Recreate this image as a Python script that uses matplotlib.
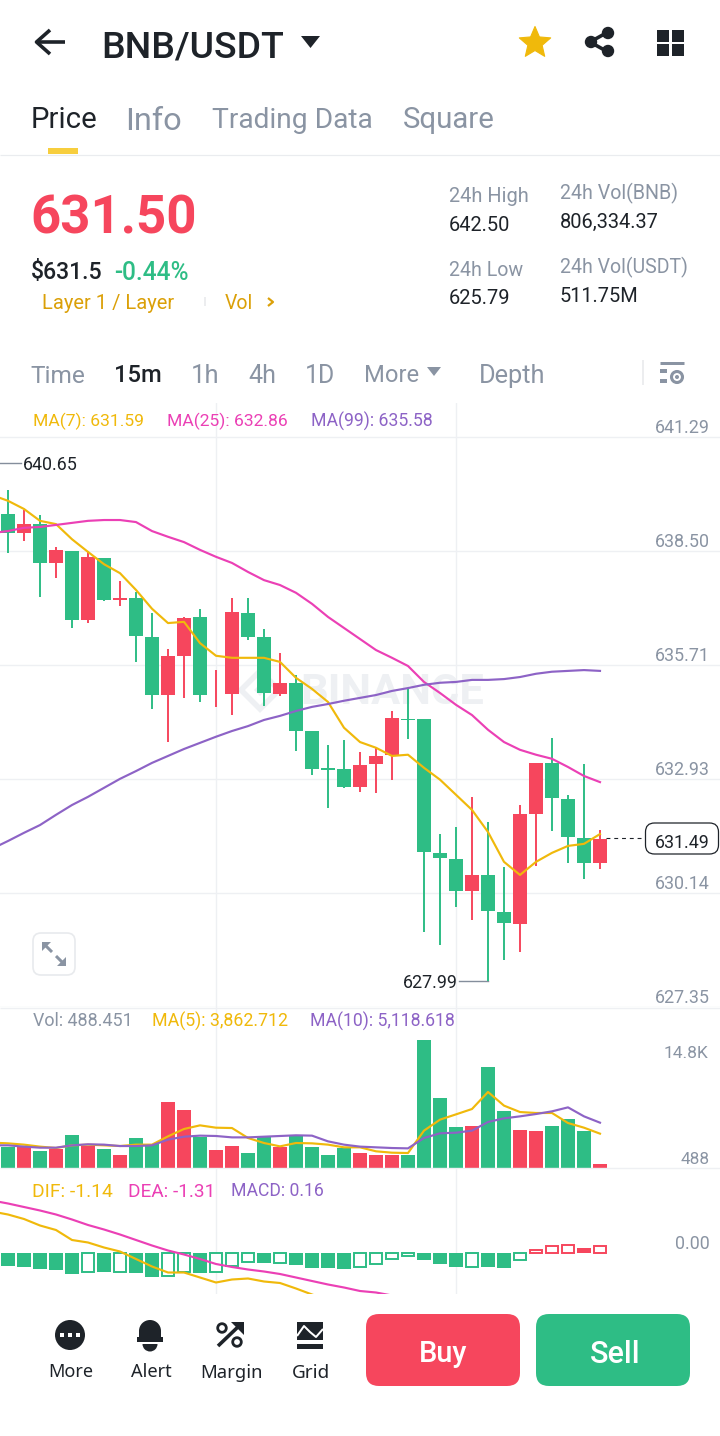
import numpy as np
import matplotlib
matplotlib.use("Agg")
import matplotlib.pyplot as plt
from matplotlib.font_manager import FontProperties
from matplotlib.textpath import TextPath
from matplotlib.patches import Circle, Rectangle, FancyBboxPatch, Polygon, Wedge, Ellipse

# ---------- data ----------
opens = [639.41,638.94,639.16,638.21,638.50,636.82,638.33,637.30,637.35,636.40,634.98,635.94,636.89,635.03,635.01,
         636.99,636.40,635.01,635.28,634.10,633.20,633.17,632.73,633.30,633.52,634.39,634.39,631.12,630.97,630.19,
         630.58,629.67,629.38,632.07,633.32,632.44,631.49,630.88]
closes = [638.94,639.16,638.21,638.53,636.82,638.36,637.30,637.35,636.42,634.98,635.94,636.87,634.98,635.03,637.01,
          636.40,635.03,635.28,634.10,633.17,633.15,632.73,633.27,633.49,634.42,634.37,631.14,631.00,630.19,630.58,
          629.70,629.41,632.07,633.32,632.47,631.51,630.88,631.46]
highs = [639.99,639.51,639.38,638.60,638.50,638.50,638.33,637.77,637.50,636.99,636.11,636.89,637.09,635.59,637.35,
         637.35,636.60,636.01,635.47,634.10,633.76,633.88,633.59,633.69,634.59,635.13,634.39,631.58,631.76,632.49,
         631.88,630.78,632.29,633.32,633.93,632.54,633.30,631.68]
lows = [638.45,638.75,637.38,637.84,636.62,636.74,637.28,637.16,635.79,634.64,633.83,634.91,634.81,634.69,634.49,
        636.33,634.71,634.96,633.61,633.03,632.22,632.71,632.61,632.59,632.91,633.91,629.19,628.87,629.80,629.48,
        627.99,628.50,628.70,630.80,631.66,630.88,630.48,630.73]
ma7 = [639.87,639.73,639.53,639.24,639.16,638.79,638.48,638.18,637.96,637.55,637.09,636.74,636.77,636.25,635.94,
       635.89,635.89,635.89,635.79,635.40,635.13,634.81,634.18,633.83,633.69,633.49,633.52,633.20,632.91,632.54,
       632.17,631.63,630.90,630.58,630.90,631.12,631.29,631.34,631.58]
ma25 = [638.94,638.99,639.07,639.09,639.14,639.19,639.24,639.26,639.26,639.21,638.99,638.85,638.72,638.53,638.36,
        638.21,637.99,637.79,637.67,637.48,637.21,636.89,636.62,636.35,636.08,635.89,635.69,635.30,635.03,634.74,
        634.49,634.13,633.83,633.64,633.52,633.42,633.22,633.00,632.85]
ma99 = [631.22,631.41,631.61,631.80,632.05,632.29,632.49,632.71,632.93,633.12,633.32,633.49,633.66,633.81,633.96,
        634.10,634.22,634.37,634.47,634.59,634.69,634.76,634.84,634.91,634.98,635.08,635.15,635.23,635.28,635.30,
        635.35,635.35,635.37,635.42,635.50,635.55,635.57,635.59,635.57]
volume = [2390,2430,1965,2230,3850,2510,2200,1540,3470,2770,7590,6700,3550,2050,2540,1730,3550,2390,3850,2390,1540,
          2310,1730,1540,1470,1540,14800,8060,4700,4820,11680,6550,4390,4310,4820,5630,4240,488]
vol_ma5 = [2930,2850,2700,2470,2310,2620,2700,2620,2540,2700,2700,3660,4510,4930,4660,4620,3470,2890,2500,2890,2850,
           2700,2390,2390,1930,1770,1730,4320,5590,6200,6820,8790,7210,6470,6360,6360,5200,4660,3970]
vol_ma10 = [2620,2620,2470,2350,2350,2620,2740,2700,2540,2540,2620,3280,3620,3740,3700,3540,3540,3620,3700,3780,3740,
            3080,2700,2470,2390,2310,2270,3470,4010,4080,4320,5320,5740,5970,6240,6550,7010,5970,5240]
macd = [-0.25,-0.27,-0.32,-0.33,-0.41,-0.37,-0.38,-0.375,-0.40,-0.48,-0.46,-0.38,-0.39,-0.385,-0.25,-0.18,-0.20,-0.19,
        -0.23,-0.29,-0.30,-0.31,-0.28,-0.21,-0.11,-0.05,-0.14,-0.21,-0.275,-0.27,-0.285,-0.29,-0.14,0.07,0.15,0.16,0.11,0.15]
dif = [0.83,0.77,0.68,0.55,0.46,0.26,0.21,0.11,0.03,-0.12,-0.27,-0.39,-0.39,-0.49,-0.59,-0.53,-0.51,-0.57,-0.60,-0.71,-0.83,-0.94]
dea = [1.05,0.99,0.92,0.85,0.77,0.67,0.56,0.47,0.37,0.26,0.15,0.05,-0.03,-0.12,-0.22,-0.28,-0.33,-0.37,-0.42,-0.49,-0.56,
       -0.63,-0.69,-0.76,-0.79,-0.85]
price_ticks = [641.29,638.50,635.71,632.93,630.14,627.35]

RED, GREEN = "#F6465D", "#2EBD85"
YEL, PINK, PUR = "#F0B90B", "#EB40B5", "#8D63C6"
DARK, GRAY, GRID = "#1E2329", "#8A94A3", "#EEF0F3"
W, H = 720, 1436
FONT = "Roboto"
PLEX = "Noto Sans"

fig = plt.figure(figsize=(W/100, H/100), dpi=100, facecolor="white")
bg = fig.add_axes([0, 0, 1, 1], zorder=0)
bg.set_xlim(0, W); bg.set_ylim(H, 0); bg.axis("off")
ov = fig.add_axes([0, 0, 1, 1], zorder=3)
ov.set_xlim(0, W); ov.set_ylim(H, 0); ov.axis("off")

def T(s, x0, x1, yc, color=DARK, weight="normal", family=FONT, z=5, on=None):
    fp = FontProperties(family=family, weight=weight)
    ext = TextPath((0, 0), s, size=100, prop=fp).get_extents()
    px = 100*(x1-x0)/ext.width*0.985
    (on or ov).text(x0+1.2-ext.x0*px/100, yc+0.355*px, s, color=color, fontproperties=fp, fontsize=px*0.72,
                    ha="left", va="baseline", zorder=z)

def L(xs, ys, color=DARK, lw=2.0, z=4, **k):
    ov.plot(xs, ys, color=color, lw=lw*0.72, zorder=z, solid_capstyle=k.pop("cap", "butt"), **k)

def P(p):
    ov.add_patch(p)

# ---------- header ----------
L([36, 65], [42, 42], lw=3.6)
L([50, 36.5, 50], [30, 42, 54], lw=3.6)
T("BNB/USDT", 103, 285, 44, weight="medium")
P(Polygon([[301,36],[320,36],[310.5,48]], fc=DARK, lw=0))
ang = np.deg2rad(np.arange(0, 360, 36) - 90)
rad = np.where(np.arange(10) % 2 == 0, 16.5, 7.5)
P(Polygon(np.c_[535+rad*np.cos(ang), 43+rad*np.sin(ang)], fc=YEL, ec=YEL, lw=0.8, joinstyle="round"))
L([608, 590, 608], [32, 42, 52], lw=3.6)
for c in [(608,33),(591,42),(608,51)]:
    P(Circle(c, 6.2, fc=DARK, lw=0))
for x in (656.5, 671.5):
    for y in (29.5, 43.5):
        P(Rectangle((x, y), 12, 12, fc=DARK, lw=0))
T("Price", 32, 96, 118)
T("Info", 127, 180, 118, GRAY)
T("Trading Data", 211, 372, 118, GRAY)
T("Square", 403, 494, 118, GRAY)
P(Rectangle((48, 148), 30, 6, fc="#F7CE3E", lw=0))
L([0, 720], [154.5, 154.5], color="#EAECEF", lw=1.2)

T("631.50", 32, 196, 215, RED, weight="bold")
T("$631.5", 31, 102, 271, DARK, weight="medium")
T("-0.44%", 114, 188, 271, GREEN, weight="medium")
T("Layer 1 / Layer", 42, 174, 302, "#DBA008")
L([204.5, 204.5], [297, 306], color="#E6E8EA", lw=1.5)
T("Vol", 224, 251, 302, "#DBA008")
L([268, 273, 268], [298, 302, 306], color="#DBA008", lw=2.2)
T("24h High", 449, 528, 195, GRAY)
T("642.50", 449, 509, 224)
T("24h Vol(BNB)", 560, 678, 192, GRAY)
T("806,334.37", 560, 659, 221)
T("24h Low", 449, 523, 269, GRAY)
T("625.79", 449, 509, 297)
T("24h Vol(USDT)", 560, 688, 266, GRAY)
T("511.75M", 560, 637, 295)

T("Time", 30, 84, 374, GRAY)
T("15m", 115, 160, 374, DARK, weight="medium")
T("1h", 192, 217, 374, GRAY)
T("4h", 248, 274, 374, GRAY)
T("1D", 306, 333, 374, GRAY)
T("More", 365, 418, 374, GRAY)
P(Polygon([[427,367],[441,367],[434,376]], fc=GRAY, lw=0))
T("Depth", 480, 544, 374, GRAY)
L([642.5, 642.5], [360, 385], color="#E6E8EA", lw=1.5)
L([660, 684], [363, 363], color=GRAY, lw=3)
for y in (371, 381):
    P(Rectangle((660, y-2), 7, 4, fc=GRAY, lw=0))
P(Circle((677, 377), 5.5, fc="white", ec=GRAY, lw=2.2))
P(Circle((677, 377), 2, fc=GRAY, lw=0))

# ---------- watermark ----------
WM = "#EEF0F3"
bg.add_patch(Polygon([[260,671],[279,690],[260,709],[241,690]], fc="none", ec=WM, lw=4))
bg.add_patch(Polygon([[260,684],[266,690],[260,696],[254,690]], fc=WM, lw=0))
T("BINANCE", 302, 485, 689, WM, weight="bold", on=bg)

# ---------- chart panels ----------
X0, X1 = -0.5, 44.5
def panel(top, bottom):
    a = fig.add_axes([0, 1-bottom/H, 1, (bottom-top)/H], zorder=2)
    a.patch.set_visible(False)
    a.set_xlim(X0, X1)
    a.tick_params(length=0, labelleft=False, labelbottom=False)
    for s in a.spines.values():
        s.set_visible(False)
    a.set_xticks([13, 28])
    a.grid(True, color=GRID, lw=1.0)
    a.set_axisbelow(True)
    return a

idx = np.arange(38)
idx_ma = np.arange(-1, 38)
o, c, hi, lo = map(np.array, (opens, closes, highs, lows))
cols = [RED if b >= a else GREEN for a, b in zip(o, c)]
LWL = 1.55
TICKFS = 12.9

ax = panel(403, 1007)
ax.set_ylim(627.35, 642.122)
ax.set_yticks(price_ticks)
ax.vlines(idx, lo, hi, colors=cols, lw=1.4, zorder=3)
ax.bar(idx, np.abs(c-o), bottom=np.minimum(o, c), width=0.875, color=cols, lw=0, zorder=3)
ax.plot(idx_ma, ma7, color=YEL, lw=LWL, zorder=4)
ax.plot(idx_ma, ma25, color=PINK, lw=LWL, zorder=4)
ax.plot(idx_ma, ma99, color=PUR, lw=LWL, zorder=4)
for v in price_ticks:
    ax.annotate(f"{v:.2f}", (44.0, v), xytext=(-1.6, 6.3), textcoords="offset points",
                ha="right", va="center", color=GRAY, fontsize=TICKFS, family=FONT, annotation_clip=False)
ax.plot([-1, (21-8)/16], [640.65, 640.65], color="#848E9C", lw=1)
ax.annotate("640.65", ((22-8)/16, 640.65), ha="left", va="center", color=DARK, fontsize=TICKFS, family=FONT,
            xytext=(0.6, -1.0), textcoords="offset points")
ax.plot([(459-8)/16, 30], [627.99, 627.99], color="#848E9C", lw=1)
ax.annotate("627.99", ((457-8)/16, 627.99), ha="right", va="center", color=DARK, fontsize=TICKFS, family=FONT,
            xytext=(0.6, -1.6), textcoords="offset points")
ax.plot([37.4, (645-8)/16], [631.49, 631.49], color=DARK, lw=0.8, dashes=(3.5, 3.5))

P(FancyBboxPatch((645.5, 823), 73, 31, boxstyle="round,pad=0,rounding_size=9", fc="white", ec=DARK, lw=0.9))
T("631.49", 655, 708, 842)
T("MA(7): 631.59", 33, 143, 420, YEL)
T("MA(25): 632.86", 167, 287, 420, PINK)
T("MA(99): 635.58", 311, 432, 420, PUR)

# expand button
P(FancyBboxPatch((33, 933), 42, 42, boxstyle="round,pad=0,rounding_size=8", fc="white", ec="#E8EAED", lw=1.2))
L([46, 52], [946, 952], color="#8A94A3", lw=3)
L([56, 62], [956, 962], color="#8A94A3", lw=3)
P(Polygon([[42,942],[51,942],[42,951]], fc="#8A94A3", lw=0))
P(Polygon([[66,966],[57,966],[66,957]], fc="#8A94A3", lw=0))

ax2 = panel(1007, 1168)
ax2.set_ylim(0, 161*115.6)
ax2.set_yticks([])
ax2.bar(idx, volume, width=0.875, color=cols, lw=0, zorder=3)
ax2.plot(idx_ma, vol_ma5, color=YEL, lw=LWL, zorder=4)
ax2.plot(idx_ma, vol_ma10, color=PUR, lw=LWL, zorder=4)
L([0, 720], [1007.5, 1007.5], color=GRID, lw=1.4, z=1)
L([0, 720], [1168, 1168], color=GRID, lw=1.4, z=1)
T("Vol: 488.451", 32, 129, 1020, GRAY)
T("MA(5): 3,862.712", 152, 288, 1020, YEL)
T("MA(10): 5,118.618", 310, 455, 1020, PUR)
T("14.8K", 664, 708, 1052, GRAY)
T("488", 680, 708, 1158, GRAY)

ax3 = panel(1168, 1294)
ax3.set_ylim(-0.82, 1.70)
ax3.set_yticks([])
m = np.array(macd)
prev = np.r_[m[0]+1, m[:-1]]
hollow = m > prev
mcols = np.array([RED if v > 0 else GREEN for v in m])
ax3.bar(idx[~hollow], m[~hollow], width=0.875, color=list(mcols[~hollow]), lw=0, zorder=3)
ax3.bar(idx[hollow], m[hollow], width=0.79, facecolor="white", edgecolor=list(mcols[hollow]), lw=1.4, zorder=3)
ax3.plot(np.arange(-1, len(dif)-1), dif, color=YEL, lw=LWL, zorder=4)
ax3.plot(np.arange(-1, len(dea)-1), dea, color=PINK, lw=LWL, zorder=4)
T("DIF: -1.14", 32, 112, 1190, YEL)
T("DEA: -1.31", 128, 211, 1190, PINK)
T("MACD: 0.16", 231, 323, 1190, PUR)
T("0.00", 675, 708, 1243, GRAY)

# ---------- footer ----------
P(Circle((70, 1335), 15, fc=DARK, lw=0))
for x in (62, 70, 78):
    P(Rectangle((x-2, 1333), 4, 4, fc="white", lw=0, zorder=5))
P(Ellipse((150, 1331), 22, 22, fc=DARK, lw=0))
P(Rectangle((139, 1331), 22, 8, fc=DARK, lw=0))
P(Rectangle((137, 1337), 26, 5, fc=DARK, lw=0))
P(Wedge((150, 1344), 7.5, 0, 180, fc=DARK, lw=0))
P(Circle((222, 1328), 4.3, fc="white", ec=DARK, lw=2))
P(Circle((237, 1342), 4.3, fc="white", ec=DARK, lw=2))
L([218, 240], [1346, 1325], lw=3.6)
P(Polygon([[231,1322],[243.5,1322],[243.5,1334.5]], fc=DARK, lw=0))
P(Rectangle((297, 1322), 26, 18, fc=DARK, lw=0))
P(Rectangle((297, 1343.5), 26, 5, fc=DARK, lw=0))
L([297, 304, 310, 316, 323], [1336, 1326, 1332, 1337, 1329], color="white", lw=2, z=5)
T("More", 49, 92, 1371, family=PLEX)
T("Alert", 130, 171, 1371, family=PLEX)
T("Margin", 201, 261, 1371, family=PLEX)
T("Grid", 292, 328, 1371, family=PLEX)
P(FancyBboxPatch((366, 1314), 154, 72, boxstyle="round,pad=0,rounding_size=13", fc=RED, ec="none"))
P(FancyBboxPatch((536, 1314), 154, 72, boxstyle="round,pad=0,rounding_size=13", fc=GREEN, ec="none"))
T("Buy", 420, 467, 1352, "white", weight="medium")
T("Sell", 590, 638, 1352, "white", weight="medium")

fig.savefig("out.png", dpi=100)
